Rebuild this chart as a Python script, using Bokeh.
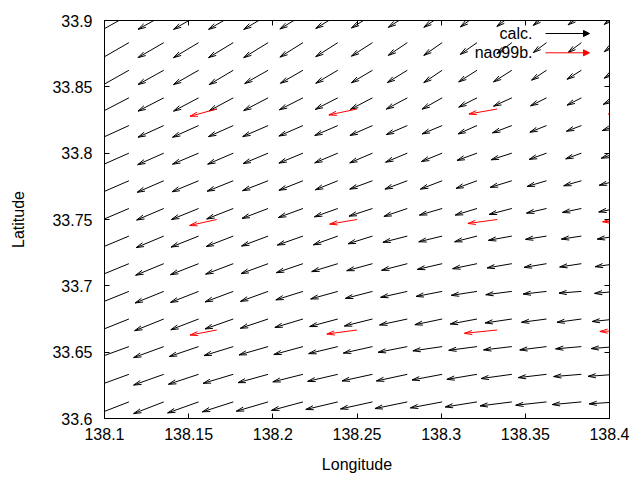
import math
from bokeh.plotting import figure
from bokeh.models import (ColumnDataSource, FixedTicker, CustomJSTickFormatter, LinearAxis,
                          Label, Arrow, NormalHead, Range1d)
from bokeh.embed import file_html
from bokeh.resources import INLINE

# ---------------- data ----------------
x_ticks = [138.1, 138.15, 138.2, 138.25, 138.3, 138.35, 138.4]
y_ticks = [33.6, 33.65, 33.7, 33.75, 33.8, 33.85, 33.9]

# calculated field: grid (vector tails)
calc_lon = [138.1145, 138.1352, 138.1559, 138.1765, 138.1972, 138.2179, 138.2386, 138.2592,
            138.2799, 138.3006, 138.3213, 138.3420, 138.3626, 138.3833, 138.4040]
calc_lat = [33.9042, 33.8833, 33.8625, 33.8417, 33.8208, 33.8000, 33.7792, 33.7583,
            33.7375, 33.7167, 33.6958, 33.6750, 33.6542, 33.6333, 33.6125]
# vector components (1e-3 deg), rows follow calc_lat, columns follow calc_lon
calc_u = [
    [-14.9, -15.3, -14.9, -14.7, -14.5, -13.7, -13.1, -12.5, -11.3, -10.9, -9.9, -8.9, -7.9, -7.9, -7.1],
    [-14.9, -15.3, -14.9, -14.7, -14.5, -13.7, -13.1, -12.5, -11.3, -10.9, -9.9, -8.9, -7.9, -7.9, -7.1],
    [-15.2, -15.3, -14.9, -14.3, -13.9, -13.4, -13.1, -12.5, -11.9, -10.9, -10.9, -10.9, -8.9, -8.5, -7.1],
    [-15.2, -15.3, -14.9, -14.3, -14.5, -14.0, -13.4, -13.1, -12.5, -11.9, -10.9, -10.9, -9.5, -8.5, -7.7],
    [-15.2, -15.3, -15.5, -14.7, -15.1, -14.3, -13.7, -13.4, -12.5, -11.9, -11.3, -11.5, -9.9, -8.9, -8.3],
    [-15.5, -15.5, -15.5, -15.2, -14.9, -14.3, -13.7, -13.5, -12.9, -12.3, -11.9, -12.3, -10.3, -9.3, -8.9],
    [-15.8, -15.8, -15.8, -15.5, -15.2, -14.3, -13.3, -13.5, -13.3, -12.9, -12.5, -12.9, -11.5, -10.5, -10.1],
    [-16.1, -16.1, -16.1, -15.8, -15.5, -14.6, -13.9, -13.9, -13.9, -13.5, -12.9, -13.5, -11.9, -11.3, -10.4],
    [-16.4, -16.4, -16.4, -16.1, -15.8, -15.2, -14.5, -14.5, -14.5, -13.9, -13.3, -13.9, -12.5, -11.9, -11.3],
    [-16.7, -16.7, -16.7, -16.4, -16.1, -15.8, -15.5, -15.3, -15.3, -14.7, -14.5, -14.7, -13.3, -12.9, -12.5],
    [-17.0, -17.0, -16.7, -16.7, -16.4, -16.1, -16.1, -16.1, -15.9, -15.5, -15.3, -15.5, -13.9, -13.3, -12.9],
    [-17.3, -17.3, -16.5, -16.8, -16.5, -16.7, -16.7, -16.7, -16.5, -16.2, -15.9, -15.9, -14.9, -14.5, -14.3],
    [-17.9, -17.9, -17.4, -17.4, -17.3, -17.3, -17.3, -17.3, -17.3, -17.4, -16.8, -16.8, -15.9, -15.3, -14.9],
    [-17.9, -17.9, -17.9, -17.9, -17.9, -17.9, -17.9, -18.1, -18.4, -17.9, -17.9, -18.3, -16.8, -16.5, -16.7],
    [-17.9, -17.9, -18.4, -18.4, -18.9, -18.7, -19.0, -19.0, -19.2, -18.9, -18.9, -18.9, -18.3, -17.3, -16.1],
]
calc_v = [
    [-10.6, -10.9, -10.9, -10.9, -10.9, -10.6, -10.2, -9.8, -9.4, -9.3, -9.0, -8.7, -7.9, -7.5, -7.2],
    [-10.9, -11.3, -11.3, -11.3, -11.3, -10.9, -10.6, -10.2, -9.6, -9.6, -8.8, -8.3, -7.5, -7.5, -6.8],
    [-10.9, -10.8, -10.8, -10.8, -10.0, -9.8, -9.8, -9.4, -9.3, -9.3, -8.8, -8.8, -7.5, -6.8, -6.0],
    [-10.0, -10.0, -10.0, -9.8, -9.6, -9.0, -8.7, -8.7, -8.5, -8.5, -7.0, -6.3, -6.0, -5.5, -4.9],
    [-8.8, -8.8, -8.8, -8.3, -8.3, -7.9, -7.5, -7.5, -6.8, -6.3, -6.3, -5.5, -5.0, -4.3, -3.8],
    [-8.7, -8.7, -8.3, -8.3, -7.9, -7.5, -7.3, -7.3, -6.8, -6.3, -5.5, -5.0, -4.7, -4.3, -3.8],
    [-8.7, -8.7, -8.3, -7.9, -7.5, -7.2, -6.8, -6.3, -6.3, -6.3, -5.8, -5.0, -4.3, -3.8, -3.4],
    [-8.7, -8.7, -8.3, -7.9, -7.5, -6.8, -6.3, -5.8, -6.0, -5.0, -5.0, -4.5, -3.5, -3.0, -2.6],
    [-8.7, -8.7, -8.3, -7.9, -7.5, -6.8, -6.6, -5.8, -4.7, -4.3, -4.3, -3.2, -2.5, -2.3, -2.3],
    [-8.7, -8.7, -8.3, -7.9, -7.5, -6.8, -6.0, -5.3, -5.0, -4.3, -3.8, -3.2, -2.8, -2.5, -2.3],
    [-8.7, -8.7, -8.3, -7.9, -7.5, -6.4, -5.7, -5.3, -4.5, -3.8, -3.0, -2.5, -2.0, -1.3, -1.5],
    [-8.8, -8.8, -8.1, -7.5, -7.0, -6.4, -5.7, -5.3, -4.5, -4.3, -3.8, -3.0, -2.5, -2.5, -1.9],
    [-8.3, -8.3, -7.5, -6.8, -6.3, -6.0, -5.3, -4.9, -4.3, -3.2, -2.8, -2.5, -2.5, -1.7, -1.5],
    [-8.3, -8.1, -7.5, -6.8, -6.3, -5.7, -5.3, -5.0, -5.0, -4.3, -3.8, -3.2, -2.5, -1.7, -1.5],
    [-8.8, -8.8, -8.3, -7.5, -7.0, -6.4, -5.7, -5.3, -5.0, -4.5, -3.8, -3.0, -2.5, -2.0, -1.5],
]

# observed field "nao99b."
obs_lon = [138.1667, 138.25, 138.3333, 138.4167]
obs_lat = [33.8333, 33.75, 33.6667]
obs_u = [
    [-15.9, -16.7, -16.8, -17.3],
    [-16.1, -16.2, -17.4, -20.8],
    [-15.8, -17.9, -19.5, -22.4],
]
obs_v = [
    [-5.5, -4.5, -3.8, -3.8],
    [-4.5, -3.5, -3.0, -1.7],
    [-3.8, -3.0, -2.5, -1.1],
]

series_names = ["calc.", "nao99b."]
series_colors = ["#000000", "#ff0000"]

X0, X1 = 138.1, 138.4
Y0, Y1 = 33.6, 33.9
FRAME_W, FRAME_H = 505, 398
FONT = "Liberation Sans"

p = figure(frame_width=FRAME_W, frame_height=FRAME_H,
           x_range=Range1d(X0, X1), y_range=Range1d(Y0, Y1),
           output_backend="svg", toolbar_location=None,
           min_border_left=104, min_border_right=31, min_border_top=20, min_border_bottom=62,
           background_fill_color="white", border_fill_color="white")
p.grid.visible = False
p.outline_line_color = "black"
p.outline_line_width = 1
p.outline_line_alpha = 1.0

sx = FRAME_W / (X1 - X0)
sy = FRAME_H / (Y1 - Y0)
HEAD_LEN = 8.0
HEAD_ANG = math.radians(15)


def vectors(lons, lats, us, vs):
    x0s, y0s, x1s, y1s = [], [], [], []
    hx, hy = [], []
    for j, lat in enumerate(lats):
        for k, lon in enumerate(lons):
            u = us[j][k] * 1e-3
            v = vs[j][k] * 1e-3
            xe, ye = lon + u, lat + v
            x0s.append(lon); y0s.append(lat); x1s.append(xe); y1s.append(ye)
            if not (X0 <= xe <= X1 and Y0 <= ye <= Y1):
                continue
            dxp, dyp = u * sx, v * sy
            L = math.hypot(dxp, dyp)
            bx, by = -dxp / L, -dyp / L
            pts_x, pts_y = [], []
            for s in (1, -1):
                a = s * HEAD_ANG
                rx = bx * math.cos(a) - by * math.sin(a)
                ry = bx * math.sin(a) + by * math.cos(a)
                pts_x.append(xe + HEAD_LEN * rx / sx)
                pts_y.append(ye + HEAD_LEN * ry / sy)
            hx.append([pts_x[0], xe, pts_x[1]])
            hy.append([pts_y[0], ye, pts_y[1]])
    return (ColumnDataSource(dict(x0=x0s, y0=y0s, x1=x1s, y1=y1s)),
            ColumnDataSource(dict(xs=hx, ys=hy)))


for (lons, lats, us, vs), color in zip(
        [(calc_lon, calc_lat, calc_u, calc_v), (obs_lon, obs_lat, obs_u, obs_v)], series_colors):
    seg_src, head_src = vectors(lons, lats, us, vs)
    p.segment("x0", "y0", "x1", "y1", source=seg_src, line_color=color, line_width=1)
    p.multi_line("xs", "ys", source=head_src, line_color=color, line_width=1)

fmt_code = "return tick.toFixed(3).replace(/\\.?0+$/, '');"
blank_code = "return '';"

for ax, ticks in ((p.xaxis[0], x_ticks), (p.yaxis[0], y_ticks)):
    ax.ticker = FixedTicker(ticks=ticks)
    ax.formatter = CustomJSTickFormatter(code=fmt_code)
    ax.major_tick_in = 5
    ax.major_tick_out = 0
    ax.minor_tick_line_color = None
    ax.axis_line_color = "black"
    ax.major_tick_line_color = "black"
    ax.major_label_text_font = FONT
    ax.major_label_text_font_size = "16px"
    ax.major_label_text_color = "#000000"
    ax.axis_label_text_font = FONT
    ax.axis_label_text_font_size = "16px"
    ax.axis_label_text_font_style = "normal"
    ax.axis_label_text_color = "#000000"

p.xaxis[0].axis_label = "Longitude"
p.yaxis[0].axis_label = "Latitude"
p.xaxis[0].major_label_standoff = 9
p.xaxis[0].axis_label_standoff = 13
p.yaxis[0].major_label_standoff = 12
p.yaxis[0].axis_label_standoff = 22

for place, ticks in (("above", x_ticks), ("right", y_ticks)):
    ax = LinearAxis(ticker=FixedTicker(ticks=ticks), formatter=CustomJSTickFormatter(code=blank_code),
                    major_tick_in=5, major_tick_out=0, minor_tick_line_color=None,
                    axis_line_color="black", major_tick_line_color="black",
                    major_label_standoff=0, major_label_text_font_size="1px")
    p.add_layout(ax, place)

# key (top right, gnuplot style: text then sample arrow)
key_rows_y = [385, 365.7]
for name, color, ky in zip(series_names, series_colors, key_rows_y):
    p.add_layout(Label(x=428, y=ky, x_units="screen", y_units="screen", text=name,
                       text_align="right", text_baseline="middle", text_font=FONT,
                       text_font_size="16px", text_color="#000000"))
    p.add_layout(Arrow(x_start=441, y_start=ky, x_end=485, y_end=ky,
                       start_units="screen", end_units="screen",
                       line_color=color, line_width=1,
                       end=NormalHead(size=6, fill_color=color, line_color=color, line_width=1)))

open("out.html", "w").write(file_html(p, INLINE))
